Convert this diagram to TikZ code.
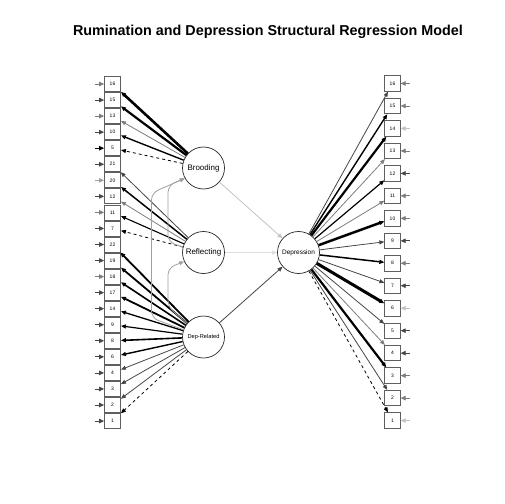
\documentclass[tikz,border=0pt]{standalone}
\usepackage{fontspec}
\setmainfont{Liberation Sans}
\usetikzlibrary{arrows.meta, calc}
\definecolor{paleline}{RGB}{222, 222, 222}
\definecolor{lightline}{RGB}{195, 195, 195}
\definecolor{covline}{RGB}{160, 160, 160}
\definecolor{midline}{RGB}{125, 125, 125}
\definecolor{darkline}{RGB}{70, 70, 70}
\definecolor{boxedge}{RGB}{95, 95, 95}

\begin{document}
\begin{tikzpicture}[
    x=1bp, y=-1bp,
    item/.style={rectangle, draw=boxedge, line width=0.8bp, minimum width=16bp, minimum height=15bp, inner sep=0pt, font=\fontsize{5}{6}\selectfont},
    ritem/.style={rectangle, draw=boxedge, line width=0.8bp, minimum width=15.5bp, minimum height=15.5bp, inner sep=0pt, font=\fontsize{5}{6}\selectfont},
    latent/.style={circle, draw=black!85, line width=0.7bp, minimum size=42bp, inner sep=0pt},
    load/.style={-{Triangle[length=5bp, width=4bp]}, line width=0.8bp},
    dashload/.style={load, black, dash pattern=on 3bp off 3bp},
    resid/.style={-{Triangle[length=5bp, width=4.5bp]}, line width=0.8bp},
    cov/.style={-{Triangle[length=5bp, width=4bp]}, covline, line width=0.8bp, rounded corners=7bp}
]
\useasboundingbox (0,0) rectangle (504,504);

% title
\node[font=\fontsize{14.4}{17}\selectfont\bfseries] (title) at (268, 31.5) {Rumination and Depression Structural Regression Model};

% latent variables
\node[latent, font=\fontsize{8}{9}\selectfont] (brood) at (203.5, 168) {Brooding};
\node[latent, font=\fontsize{8}{9}\selectfont] (refl) at (203.5, 252.5) {Reflecting};
\node[latent, font=\fontsize{5.7}{6}\selectfont] (deprel) at (203.5, 337) {Dep-Related};
\node[latent, font=\fontsize{6.5}{7}\selectfont] (depr) at (298.5, 252.5) {Depression};

% rumination items (left column) with residuals
\foreach \lab/\k/\col in {16/0/midline, 15/1/darkline, 13/2/midline, 10/3/darkline, 5/4/black, 21/5/darkline, 20/6/covline, 12/7/darkline, 11/8/midline, 7/9/darkline, 22/10/darkline, 19/11/darkline, 18/12/midline, 17/13/darkline, 14/14/darkline, 9/15/darkline, 8/16/darkline, 6/17/darkline, 4/18/darkline, 3/19/darkline, 2/20/darkline, 1/21/darkline} {
    \node[item] (r\lab) at (112.5, 84+16.05*\k) {\lab};
    \draw[resid, \col] ([xshift=-9bp]r\lab.west) -- (r\lab.west);
}

% depression items (right column) with residuals
\foreach \lab/\k/\col in {16/0/midline, 15/1/midline, 14/2/lightline, 13/3/midline, 12/4/darkline, 11/5/midline, 10/6/midline, 9/7/darkline, 8/8/midline, 7/9/darkline, 6/10/lightline, 5/11/darkline, 4/12/darkline, 3/13/midline, 2/14/midline, 1/15/lightline} {
    \node[ritem] (d\lab) at (392.5, 83.5+22.47*\k) {\lab};
    \draw[resid, \col] ([xshift=9bp]d\lab.east) -- (d\lab.east);
}

% loadings - Brooding
\draw[load, black, line width=2.6bp] (brood) -- (r16);
\draw[load, black, line width=2.2bp] (brood) -- (r15);
\draw[load, midline] (brood) -- (r13);
\draw[load, black, line width=1.4bp] (brood) -- (r10);
\draw[dashload] (brood) -- (r5);

% loadings - Reflecting
\draw[load, darkline] (refl) -- (r21);
\draw[load, black, line width=1.5bp] (refl) -- (r20);
\draw[load, midline] (refl) -- (r12);
\draw[load, black, line width=1.1bp] (refl) -- (r11);
\draw[dashload] (refl) -- (r7);

% loadings - Dep-Related
\draw[load, black, line width=1.8bp] (deprel) -- (r22);
\draw[load, black, line width=1.8bp] (deprel) -- (r19);
\draw[load, black, line width=1.6bp] (deprel) -- (r18);
\draw[load, black, line width=1.8bp] (deprel) -- (r17);
\draw[load, black, line width=1.3bp] (deprel) -- (r14);
\draw[load, black, line width=1.2bp] (deprel) -- (r9);
\draw[load, black, line width=1.6bp] (deprel) -- (r8);
\draw[load, black, line width=1.4bp] (deprel) -- (r6);
\draw[load, darkline] (deprel) -- (r4);
\draw[load, darkline] (deprel) -- (r3);
\draw[load, darkline] (deprel) -- (r2);
\draw[dashload] (deprel) -- (r1);

% loadings - Depression
\draw[load, darkline] (depr) -- (d16);
\draw[load, black, line width=1.4bp] (depr) -- (d15);
\draw[load, black, line width=2.2bp] (depr) -- (d14);
\draw[load, midline] (depr) -- (d13);
\draw[load, black, line width=1.2bp] (depr) -- (d12);
\draw[load, midline] (depr) -- (d11);
\draw[load, black, line width=2.5bp] (depr) -- (d10);
\draw[load, darkline] (depr) -- (d9);
\draw[load, black, line width=1.5bp] (depr) -- (d8);
\draw[load, darkline] (depr) -- (d7);
\draw[load, black, line width=3bp] (depr) -- (d6);
\draw[load, darkline] (depr) -- (d5);
\draw[load, midline] (depr) -- (d4);
\draw[load, black, line width=2.2bp] (depr) -- (d3);
\draw[load, darkline] (depr) -- (d2);
\draw[dashload, line width=0.8bp] (depr) -- (d1);

% structural paths
\draw[load, lightline] (brood) -- (depr);
\draw[load, paleline] (refl) -- (depr);
\draw[load, darkline] (deprel) -- (depr);

% covariances between rumination factors
\draw[cov] (deprel.160) -- (151.5, 318) -- (151.5, 193) -- (brood.209);
\draw[cov] (refl.165) -- (168, 242) -- (168, 185.5) -- (brood.209);
\draw[cov] (deprel.140) -- (168, 307) -- (168, 268) -- (refl.205);

\end{tikzpicture}
\end{document}
